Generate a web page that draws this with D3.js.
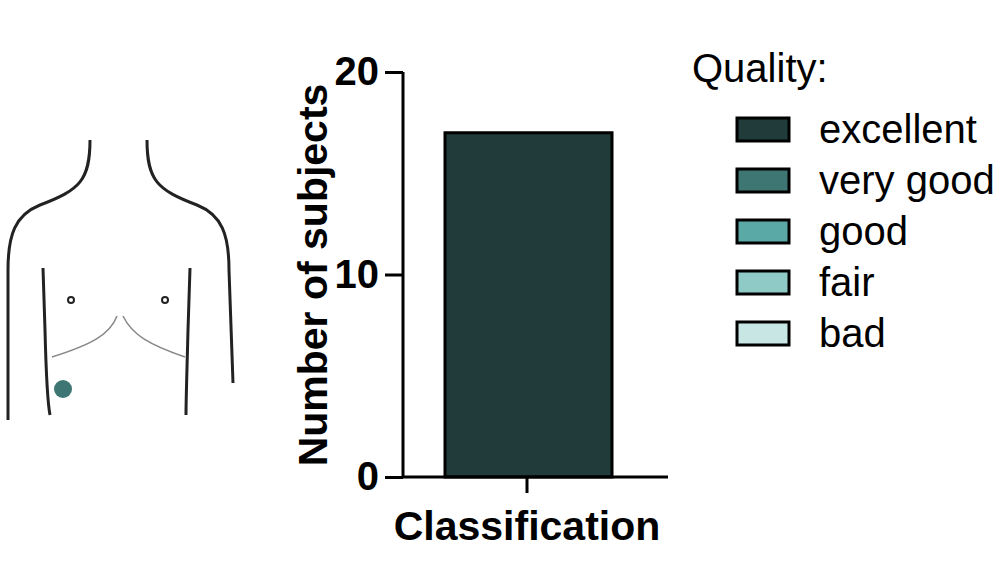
<!DOCTYPE html><html><head><meta charset="utf-8">
<script src="https://cdn.jsdelivr.net/npm/d3@7"></script>
<style>body{margin:0;background:#fff}</style></head><body><svg id="c" width="1000" height="580"></svg>
<script>
const categories=["Classification"];
const values=[17];
const yTicks=[0,10,20];
const qualityLabels=["excellent","very good","good","fair","bad"];
const qualityColors=["#213b3b","#3e7673","#5aa9a7","#8fcac7","#c8e6e4"];
const svg=d3.select("#c");
const font="Helvetica, Liberation Sans, Arial, sans-serif";
const g=svg.append("g").attr("fill","none").attr("stroke","#222").attr("stroke-width",3);
g.append("path").attr("d","M90,140 C90,180 80,190 40,205 C15,215 8,235 8,270 L8,420");
g.append("path").attr("d","M147,140 C147,180 157,190 197,205 C222,215 229,235 229,270 L233,383");
g.append("path").attr("d","M43,268 L45,330 C46,370 47,400 50,415");
g.append("path").attr("d","M190,268 L188,330 C187,370 186,400 186,415");
g.append("circle").attr("cx",71).attr("cy",300).attr("r",3).attr("stroke-width",2);
g.append("circle").attr("cx",165).attr("cy",300).attr("r",3).attr("stroke-width",2);
g.append("path").attr("stroke","#888").attr("stroke-width",1.5).attr("d","M52,357 C90,345 110,335 117,316");
g.append("path").attr("stroke","#888").attr("stroke-width",1.5).attr("d","M185,357 C150,345 132,335 123,316");
svg.append("circle").attr("cx",63).attr("cy",389).attr("r",9).attr("fill","#3e7673");
const y=d3.scaleLinear().domain([0,20]).range([477,72]);
const x=d3.scaleBand().domain(categories).range([445,612]).padding(0);
svg.selectAll("rect.bar").data(values).join("rect").attr("class","bar")
 .attr("x",(d,i)=>x(categories[i])).attr("width",x.bandwidth())
 .attr("y",d=>y(d)).attr("height",d=>y(0)-y(d)).attr("fill","#213b3b").attr("stroke","#000").attr("stroke-width",3);
const ya=svg.append("g").attr("transform","translate(403,0)").call(d3.axisLeft(y).tickValues(yTicks).tickSize(18).tickPadding(6));
ya.selectAll("line,path").attr("stroke","#000").attr("stroke-width",3);
ya.select("path").attr("d","M0,"+y(20)+"V"+y(0));
ya.selectAll("text").attr("font-family",font).attr("font-size",40).attr("font-weight","bold").attr("fill","#000");
svg.append("line").attr("x1",403).attr("x2",668).attr("y1",477).attr("y2",477).attr("stroke","#000").attr("stroke-width",3);
svg.append("line").attr("x1",527).attr("x2",527).attr("y1",477).attr("y2",493).attr("stroke","#000").attr("stroke-width",3);
svg.append("text").attr("x",527).attr("y",540).attr("text-anchor","middle").attr("font-family",font).attr("font-size",41).attr("font-weight","bold").text(categories[0]);
svg.append("text").attr("transform","translate(327,275) rotate(-90)").attr("text-anchor","middle").attr("font-family",font).attr("font-size",41).attr("font-weight","bold").text("Number of subjects");
svg.append("text").attr("x",692).attr("y",82).attr("font-family",font).attr("font-size",40).text("Quality:");
const lg=svg.selectAll("g.lg").data(qualityLabels).join("g").attr("class","lg").attr("transform",(d,i)=>`translate(737,${118+i*51})`);
lg.append("rect").attr("width",52).attr("height",23).attr("fill",(d,i)=>qualityColors[i]).attr("stroke","#000").attr("stroke-width",3);
lg.append("text").attr("x",82).attr("y",25).attr("font-family",font).attr("font-size",40).text(d=>d);
</script></body></html>
